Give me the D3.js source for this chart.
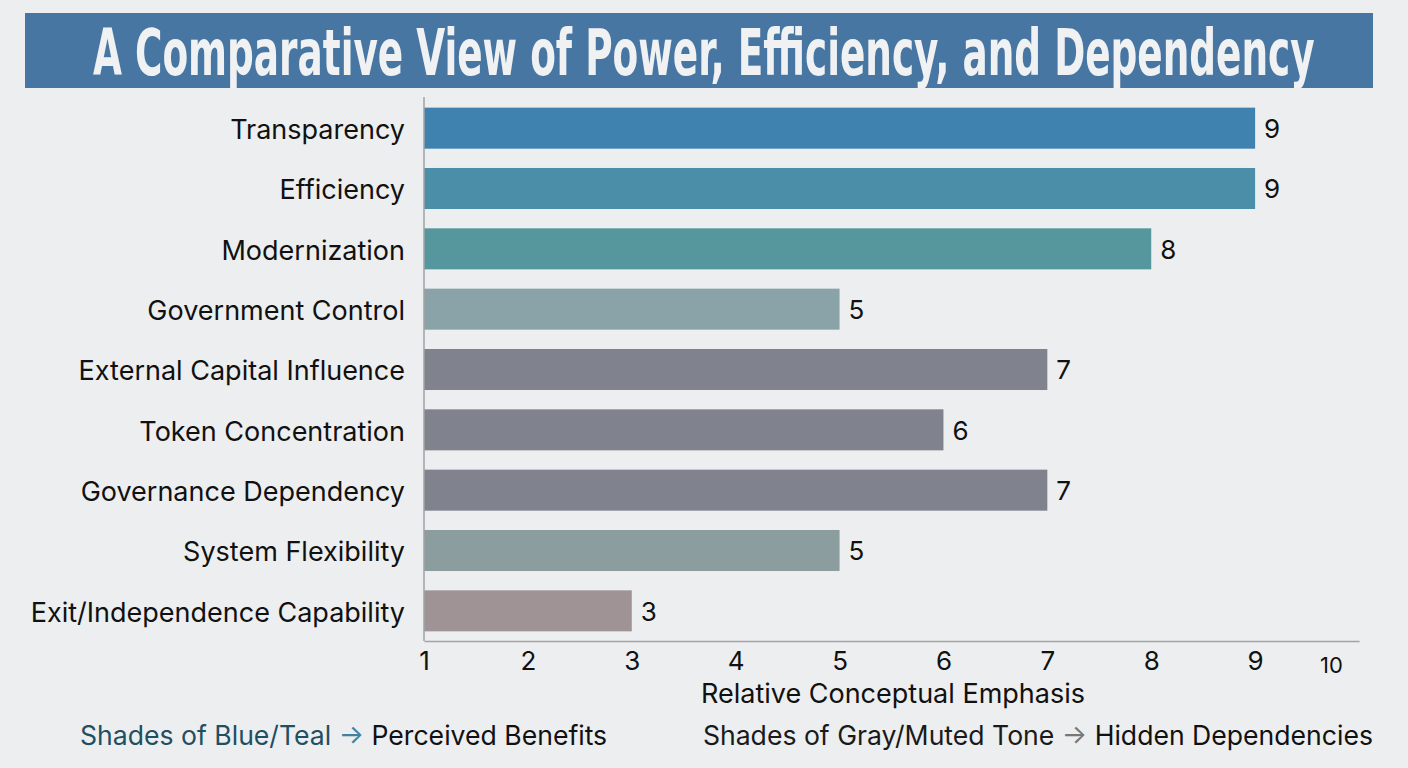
<!DOCTYPE html>
<html><head><meta charset="utf-8">
<script src="https://cdn.jsdelivr.net/npm/d3@7"></script>
<style>
html,body{margin:0;padding:0;background:#eceeef;}
svg{display:block;}
</style></head>
<body>
<svg id="chart" width="1408" height="768"></svg>
<script>
const categories = ["Transparency","Efficiency","Modernization","Government Control","External Capital Influence","Token Concentration","Governance Dependency","System Flexibility","Exit/Independence Capability"];
const values = [9,9,8,5,7,6,7,5,3];
const barColors = ["#3f82b0","#4a8ea8","#56979e","#8aa3a8","#80838d","#80838d","#80838d","#8c9d9f","#a09396"];
const tickValues = [1,2,3,4,5,6,7,8,9,10];
const titleText = "A Comparative View of Power, Efficiency, and Dependency";
const axisTitle = "Relative Conceptual Emphasis";

const svg = d3.select("#chart");
const font = "Inter, 'Liberation Sans', Arial, sans-serif";
const fs = 27;

// title band
svg.append("rect").attr("x",25).attr("y",13).attr("width",1348).attr("height",75).attr("fill","#4876a3");
const titleW = 1222, titleFs = 64;
const title = svg.append("text")
  .attr("font-family","'Liberation Sans Narrow','DejaVu Sans Condensed',sans-serif")
  .attr("font-weight","bold").attr("font-size",titleFs).attr("fill","#f0f1f2")
  .text(titleText);
const natW = title.node().getComputedTextLength();
const fitFs = titleFs * titleW / natW;
title.attr("font-size",fitFs)
  .attr("transform",`translate(93,75) scale(1,${titleFs/fitFs})`);

const x = d3.scaleLinear().domain([1,10]).range([424,1359]);
const y = d3.scaleBand().domain(categories).range([98,641]).paddingInner(0.32).paddingOuter(0.16);

// bars
svg.selectAll("rect.bar").data(categories).join("rect").attr("class","bar")
  .attr("x",x(1)).attr("y",d=>y(d)).attr("height",y.bandwidth())
  .attr("width",(d,i)=>x(values[i])-x(1)).attr("fill",(d,i)=>barColors[i]);

// value labels
svg.selectAll("text.val").data(categories).join("text").attr("class","val")
  .attr("x",(d,i)=>x(values[i])+9).attr("y",d=>y(d)+y.bandwidth()/2).attr("dy","0.38em")
  .attr("font-family",font).attr("font-size",fs-1).attr("fill","#111")
  .text((d,i)=>values[i]);

// y axis
const yAxis = svg.append("g").attr("transform",`translate(${x(1)},0)`)
  .call(d3.axisLeft(y).tickSize(0).tickPadding(19));
yAxis.select(".domain").attr("stroke","#a0a3a6").attr("stroke-width",1.5).attr("d","M0,97V641");
yAxis.selectAll("text").attr("font-family",font).attr("font-size",fs).attr("fill","#111").attr("dy","0.4em");

// x axis
const xAxis = svg.append("g").attr("transform","translate(0,641)")
  .call(d3.axisBottom(x).tickValues(tickValues).tickSize(0).tickPadding(11).tickFormat(d3.format("d")));
xAxis.select(".domain").attr("stroke","#a0a3a6").attr("stroke-width",1.5);
xAxis.selectAll("text").attr("font-family",font).attr("font-size",fs-1).attr("fill","#111");
xAxis.selectAll(".tick").filter(d=>d===10).select("text")
  .attr("font-size",22).attr("dx",-28).attr("dy","0.95em");

svg.append("text").attr("x",893).attr("y",703).attr("text-anchor","middle")
  .attr("font-family",font).attr("font-size",fs).attr("fill","#111").text(axisTitle);

// legend
const legFs = 26.6;
const leg1 = svg.append("text").attr("x",80).attr("y",745).attr("font-family",font).attr("font-size",legFs);
leg1.append("tspan").attr("fill","#1f4f63").text("Shades of Blue/Teal ");
leg1.append("tspan").attr("fill","#3f82a0").text("→ ");
leg1.append("tspan").attr("fill","#111").text("Perceived Benefits");

const leg2 = svg.append("text").attr("x",1373).attr("y",745).attr("text-anchor","end").attr("font-family",font).attr("font-size",legFs);
leg2.append("tspan").attr("fill","#1a1a1a").text("Shades of Gray/Muted Tone ");
leg2.append("tspan").attr("fill","#777").text("→ ");
leg2.append("tspan").attr("fill","#111").text("Hidden Dependencies");
</script>
</body></html>
